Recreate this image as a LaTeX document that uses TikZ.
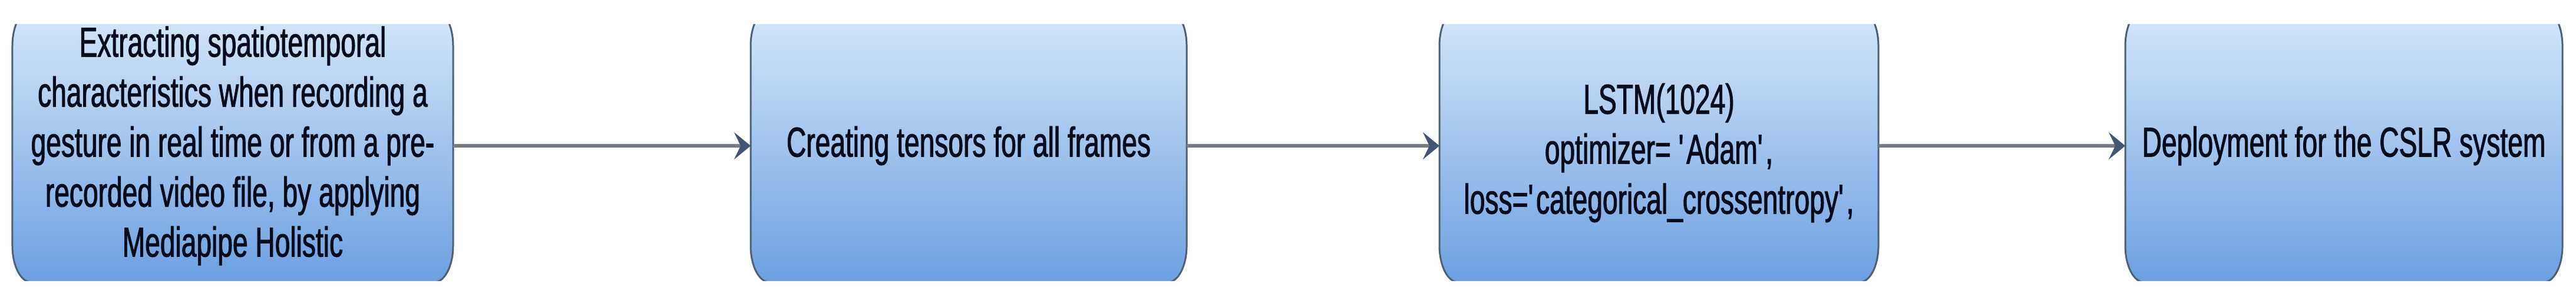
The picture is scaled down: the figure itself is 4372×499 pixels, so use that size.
\documentclass[tikz,border=0pt]{standalone}
\usepackage{fontspec}
\newfontfamily\boxfont[FakeStretch=0.65,FakeBold=1.4]{Liberation Sans}
\usetikzlibrary{arrows.meta,calc,backgrounds}
\definecolor{boxtop}{RGB}{214,232,250}
\definecolor{boxbot}{RGB}{108,160,225}
\definecolor{boxline}{RGB}{76,96,118}
\definecolor{linecol}{RGB}{118,124,130}
\definecolor{headcol}{RGB}{68,84,116}
\definecolor{txtcol}{RGB}{6,12,28}
\tikzset{
  boxnode/.style={font=\boxfont\fontsize{14.2}{17}\selectfont, text=txtcol, align=center, inner sep=0pt, minimum height=20pt},
  boxsty/.style={draw=boxline, line width=0.6pt, top color=boxtop, bottom color=boxbot},
  arr/.style={draw=linecol, line width=1.1pt, -{Stealth[length=5.6pt,width=9.2pt,inset=2.2pt,color=headcol,fill=headcol]}},
}
\newcommand\boxshape[1]{%
  \begin{scope}
    \clip (0pt,4.4pt) rectangle (874.4pt,91.6pt);
    \path[boxsty] let \p1=(#1.west), \p2=(#1.east) in
      (\x1,16.2pt) -- (\x1,84.2pt)
      arc[start angle=180,end angle=90,x radius=6.4pt,y radius=12.4pt]
      -- (\x2-6.4pt,96.6pt)
      arc[start angle=90,end angle=0,x radius=6.4pt,y radius=12.4pt]
      -- (\x2,16.2pt)
      arc[start angle=0,end angle=-90,x radius=6.4pt,y radius=12.4pt]
      -- (\x1+6.4pt,3.8pt)
      arc[start angle=270,end angle=180,x radius=6.4pt,y radius=12.4pt]
      -- cycle;
  \end{scope}}
\begin{document}
\begin{tikzpicture}[x=0.2pt,y=0.2pt]
  \useasboundingbox (0,0) rectangle (4372,499);
  \node[boxnode, minimum width=149.2pt] (b1) at (395,251)
    {Extracting spatiotemporal\\characteristics when recording a\\gesture in real time or from a pre-\\recorded video file, by applying\\Mediapipe Holistic};
  \node[boxnode, minimum width=147.6pt] (b2) at (1644,251) {Creating tensors for all frames};
  \node[boxnode, minimum width=148.6pt] (b3) at (2815.5,239)
    {LSTM(1024)\\optimizer= \textquotesingle Adam\textquotesingle,\\loss=\textquotesingle categorical\_crossentropy\textquotesingle,};
  \node[boxnode, minimum width=148pt] (b4) at (3978,251) {Deployment for the CSLR system};
  \begin{scope}[on background layer]
    \fill[white] (0,0) rectangle (4372,499);
    \boxshape{b1}\boxshape{b2}\boxshape{b3}\boxshape{b4}
  \end{scope}
  \draw[arr] (b1.east) -- (b2.west);
  \draw[arr] (b2.east) -- (b2.east -| b3.west);
  \draw[arr] (b3.east |- b4.west) -- (b4.west);
\end{tikzpicture}
\end{document}
